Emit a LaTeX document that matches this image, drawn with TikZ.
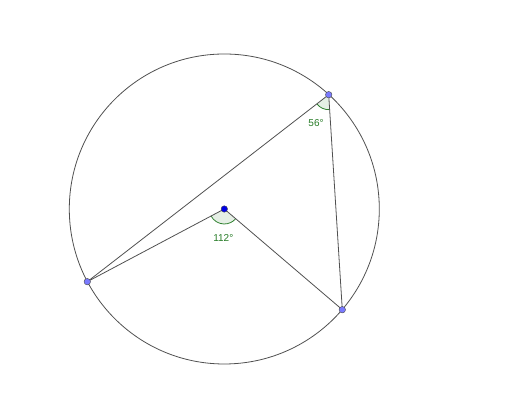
\documentclass[tikz,border=0pt]{standalone}
\usepackage{fontspec}
\setmainfont{Liberation Sans}
\definecolor{anggreen}{RGB}{0,100,0}
\definecolor{ptlight}{RGB}{122,122,255}
\definecolor{ptdark}{RGB}{0,0,230}
\definecolor{linegray}{RGB}{80,80,80}
\tikzset{
  seg/.style={draw=linegray, line width=0.8pt},
  pt/.style={circle, draw=black!70, fill=ptlight, line width=0.4pt, inner sep=0pt, minimum size=6.5pt},
  ptc/.style={circle, draw=black!70, fill=ptdark, line width=0.4pt, inner sep=0pt, minimum size=6.5pt},
  angfill/.style={fill=anggreen, fill opacity=0.1, draw=anggreen, draw opacity=0.8, line width=0.8pt},
  anglbl/.style={text=anggreen!85, font=\fontsize{10}{12}\selectfont, inner sep=0pt}
}
\begin{document}
\begin{tikzpicture}[x=1pt,y=1pt]
\useasboundingbox (0,0) rectangle (512,403);
\coordinate (A) at (328.7,308.3);
\coordinate (B) at (87.3,121.3);
\coordinate (C) at (342.3,93.3);
\coordinate (O) at (224.3,194);
% circle
\draw[seg] (O) circle[radius=155];
% angle sectors
\fill[anggreen, fill opacity=0.1] (O) -- ++(207.9:15) arc[start angle=207.9, end angle=319.5, radius=15] -- cycle;
\draw[anggreen, opacity=0.8, line width=0.8pt] (O) ++(207.9:15) arc[start angle=207.9, end angle=319.5, radius=15];
\fill[anggreen, fill opacity=0.1] (A) -- ++(217.8:15) arc[start angle=217.8, end angle=273.6, radius=15] -- cycle;
\draw[anggreen, opacity=0.8, line width=0.8pt] (A) ++(217.8:15) arc[start angle=217.8, end angle=273.6, radius=15];
% segments
\draw[seg] (A) -- (B);
\draw[seg] (A) -- (C);
\draw[seg] (O) -- (B);
\draw[seg] (O) -- (C);
% points
\node[pt] (pA) at (A) {};
\node[pt] (pB) at (B) {};
\node[pt] (pC) at (C) {};
\node[ptc] (pO) at (O) {};
% labels
\node[anglbl] (l112) at (223.3,164.5) {112°};
\node[anglbl] (l56) at (316,279.5) {56°};
\end{tikzpicture}
\end{document}
